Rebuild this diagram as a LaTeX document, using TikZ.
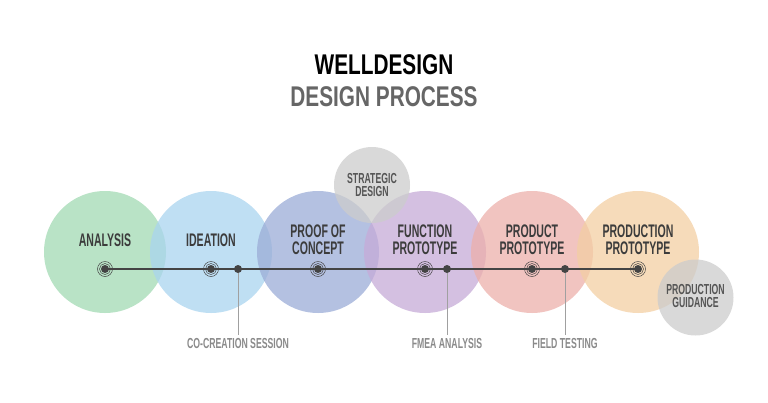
\documentclass[tikz,border=0pt]{standalone}
\usepackage{fontspec}
\newfontfamily\bebas{Liberation Sans}[FakeStretch=0.6]
\newfontfamily\bebasstep{Liberation Sans}[FakeStretch=0.58]
\newfontfamily\bebastitle{Liberation Sans}[FakeStretch=0.73]
\definecolor{cgreen}{RGB}{162,217,179}
\definecolor{cblue}{RGB}{170,212,239}
\definecolor{cperi}{RGB}{155,172,215}
\definecolor{cpurple}{RGB}{198,171,215}
\definecolor{cpink}{RGB}{236,176,171}
\definecolor{cpeach}{RGB}{243,207,163}
\definecolor{cgray}{RGB}{204,204,204}
\definecolor{txtdark}{RGB}{60,60,60}
\definecolor{txtmid}{RGB}{85,85,85}
\definecolor{txtlight}{RGB}{138,138,138}
\definecolor{linedark}{RGB}{68,68,68}
\definecolor{linegray}{RGB}{160,160,160}
\tikzset{
  bigcirc/.style={circle, minimum size=122pt, inner sep=0pt, fill opacity=0.75},
  smallcirc/.style={circle, minimum size=76pt, inner sep=0pt, fill=cgray, fill opacity=0.75},
  steplabel/.style={font=\bebasstep\bfseries\fontsize{18.2}{17}\selectfont, text=txtdark, align=center, inner sep=0pt},
  sidelabel/.style={font=\bebas\bfseries\fontsize{14.5}{13.5}\selectfont, text=txtmid, align=center, inner sep=0pt},
  notelabel/.style={font=\bebas\bfseries\fontsize{14.5}{14}\selectfont, text=txtlight, inner sep=0pt, anchor=north},
  target/.style={circle, fill=linedark, minimum size=8pt, inner sep=0pt},
  ring/.style={circle, draw=linedark, line width=0.5pt, inner sep=0pt},
  dotnode/.style={circle, fill=linedark, minimum size=8pt, inner sep=0pt},
  mainline/.style={draw=linedark, line width=1.3pt},
  dropline/.style={draw=linegray, line width=1pt},
  titlefont/.style={font=\bebastitle\bfseries\fontsize{28.5}{28}\selectfont, inner sep=0pt},
}
\begin{document}
\begin{tikzpicture}[x=1pt,y=-1pt]
\useasboundingbox (0,0) rectangle (768,402);
% title
\node[titlefont, text=black] (t1) at (384,65) {WELLDESIGN};
\node[titlefont, text=black!60] (t2) at (384,97) {DESIGN PROCESS};
% circles
\node[bigcirc, fill=cgreen] (c1) at (105,252) {};
\node[bigcirc, fill=cblue] (c2) at (211,252) {};
\node[bigcirc, fill=cperi] (c3) at (318,252) {};
\node[bigcirc, fill=cpurple] (c4) at (425,252) {};
\node[bigcirc, fill=cpink] (c5) at (532,252) {};
\node[bigcirc, fill=cpeach] (c6) at (638,252) {};
\node[smallcirc] (s1) at (372,185) {};
\node[smallcirc] (s2) at (695.5,297.5) {};
% targets
\foreach \i/\x in {1/105,2/211,3/318,4/425,5/532,6/638}{
  \node[ring, minimum size=11pt] (ra\i) at (\x,269) {};
  \node[ring, minimum size=15pt] (rb\i) at (\x,269) {};
}
\draw[mainline] (rb1.center) -- (rb6.center);
\foreach \i/\x in {1/105,2/211,3/318,4/425,5/532,6/638}{
  \node[target] (p\i) at (\x,269) {};
}
% dots and drop lines
\node[dotnode] (d1) at (238,269) {};
\node[dotnode] (d2) at (447,269) {};
\node[dotnode] (d3) at (565,269) {};
\node[notelabel] (n1) at (238,338) {CO-CREATION SESSION};
\node[notelabel] (n2) at (447,338) {FMEA ANALYSIS};
\node[notelabel] (n3) at (565,338) {FIELD TESTING};
\draw[dropline] (d1) -- ([yshift=3pt]n1.north);
\draw[dropline] (d2) -- ([yshift=3pt]n2.north);
\draw[dropline] (d3) -- ([yshift=3pt]n3.north);
% labels
\node[steplabel] (l1) at (105,240) {ANALYSIS};
\node[steplabel] (l2) at (211,240) {IDEATION};
\node[steplabel] (l3) at (318,240) {PROOF OF\\CONCEPT};
\node[steplabel] (l4) at (425,240) {FUNCTION\\PROTOTYPE};
\node[steplabel] (l5) at (532,240) {PRODUCT\\PROTOTYPE};
\node[steplabel] (l6) at (638,240) {PRODUCTION\\PROTOTYPE};
\node[sidelabel] (l7) at (372,185) {STRATEGIC\\DESIGN};
\node[sidelabel] (l8) at (695.5,296) {PRODUCTION\\GUIDANCE};
\end{tikzpicture}
\end{document}
